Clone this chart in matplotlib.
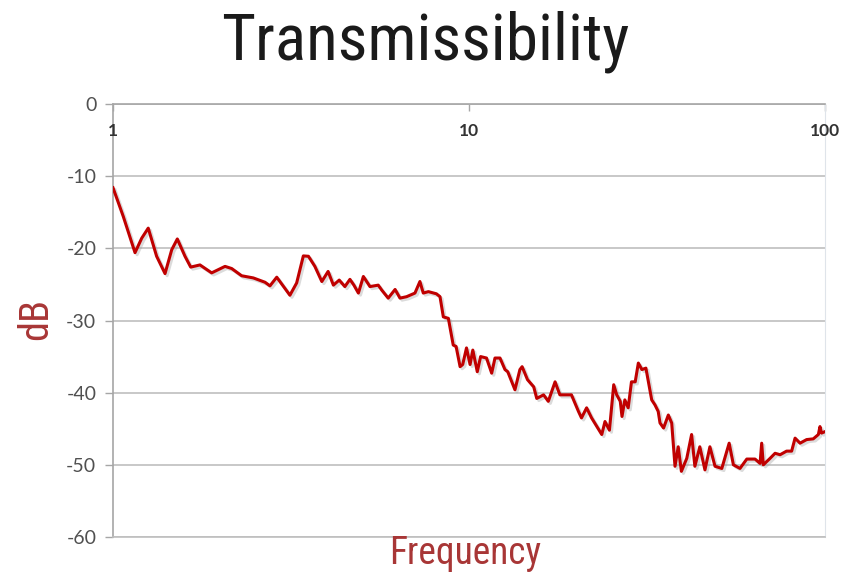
import matplotlib
matplotlib.use("Agg")
import matplotlib.pyplot as plt
import matplotlib.patheffects as pe
from matplotlib.ticker import NullLocator, FixedLocator, NullFormatter

# ---- data ----
freq = [1.00, 1.069, 1.153, 1.204, 1.256, 1.326, 1.40, 1.462, 1.516, 1.593, 1.653,
        1.755, 1.893, 2.064, 2.155, 2.298, 2.478, 2.673, 2.76, 2.884, 3.14, 3.28,
        3.425, 3.54, 3.69, 3.86, 4.02, 4.16, 4.32, 4.48, 4.63, 4.75, 4.89, 5.05,
        5.27, 5.56, 5.69, 5.93, 6.2, 6.4, 6.68, 7.05, 7.28, 7.44, 7.69, 8.10, 8.29,
        8.47, 8.75, 9.03, 9.20, 9.44, 9.60, 9.84, 10.07, 10.25, 10.55, 10.78, 11.2,
        11.58, 11.83, 12.22, 12.62, 12.85, 13.46, 13.9, 14.1, 14.6, 15.2, 15.5,
        16.2, 16.7, 17.45, 18.0, 19.4, 20.3, 20.7, 21.4, 22.1, 23.6, 24.1, 24.8,
        25.5, 26.0, 26.6, 26.9, 27.4, 28.0, 28.6, 29.3, 29.9, 30.6, 31.4, 32.6,
        33.3, 34.0, 34.4, 35.2, 36.3, 37.1, 37.9, 38.7, 39.5, 40.9, 42.2, 43.1,
        44.5, 46.0, 47.5, 49.1, 51.3, 53.8, 55.3, 57.7, 60.3, 63.6, 65.7, 66.4,
        67.1, 70.1, 72.4, 74.8, 78.0, 80.6, 82.4, 85.1, 88.8, 92.7, 95.8, 96.8,
        97.8, 100.0]
db = [-11.6, -15.6, -20.6, -18.6, -17.2, -21.1, -23.5, -20.2, -18.7, -21.1, -22.6,
      -22.3, -23.4, -22.5, -22.8, -23.8, -24.1, -24.7, -25.2, -24.0, -26.5, -24.8,
      -21.05, -21.1, -22.5, -24.6, -23.2, -25.1, -24.4, -25.3, -24.3, -25.1, -26.2, -23.9,
      -25.3, -25.1, -25.8, -26.9, -25.7, -26.9, -26.7, -26.2, -24.6, -26.2, -26.0, -26.3, -26.7,
      -29.5, -29.7, -33.4, -33.6, -36.4, -36.1, -33.8, -36.1, -34.1, -37.1, -35.0, -35.2,
      -37.3, -35.2, -35.2, -36.8, -37.1, -39.6, -36.8, -36.4, -38.2, -39.2, -40.8,
      -40.3, -41.2, -38.5, -40.3, -40.3, -42.6, -43.5, -42.1, -43.5, -45.8, -44.0, -45.2,
      -38.9, -40.3, -41.2, -43.3, -41.0, -42.1, -38.5, -38.5, -35.9, -36.8, -36.6, -41.0,
      -41.7, -42.6, -44.2, -44.9, -43.1, -44.2, -50.2, -47.5, -50.9, -49.1, -45.8, -50.2,
      -47.5, -50.7, -47.5, -50.2, -50.5, -47.0, -50.0, -50.5, -49.2, -49.2, -49.8, -47.0,
      -50.0, -49.1, -48.4, -48.6, -48.1, -48.1, -46.3, -47.0, -46.5, -46.4, -45.8, -44.7,
      -45.6, -45.4]
x_ticks = [1, 10, 100]
x_tick_labels = ["1", "10", "100"]
y_ticks = [0, -10, -20, -30, -40, -50, -60]
title = "Transmissibility"
x_label = "Frequency"
y_label = "dB"

narrow = ["Liberation Sans Narrow", "Roboto Condensed", "DejaVu Sans"]
tickfont = ["Lato", "DejaVu Sans"]

fig = plt.figure(figsize=(8.68, 5.83), dpi=100)
fig.patch.set_facecolor("white")
ax = fig.add_axes([113/868, 1-537/583, (825-113)/868, (537-104)/583])

ax.plot(freq, db, color="#c00000", lw=2.2, solid_joinstyle="round",
        path_effects=[pe.SimpleLineShadow(offset=(1.5, -1.5), shadow_color="#999999", alpha=0.35),
                      pe.Normal()], zorder=3)

ax.set_xscale("log")
ax.set_xlim(1, 100)
ax.set_ylim(-60, 0)
ax.xaxis.set_major_locator(FixedLocator(x_ticks))
ax.xaxis.set_minor_locator(NullLocator())
ax.xaxis.set_major_formatter(NullFormatter())
ax.xaxis.set_ticks_position("top")
ax.tick_params(axis="x", direction="in", length=5, color="#a6a6a6", width=1)
for xv, lab in zip(x_ticks, x_tick_labels):
    ax.text(xv, -3.7, lab, ha="center", va="center", fontsize=12.5,
            family=tickfont, color="#333333", fontweight="bold")

ax.set_yticks(y_ticks)
ax.set_yticklabels([str(v) for v in y_ticks])
ax.tick_params(axis="y", direction="out", length=6, color="#a6a6a6", width=1,
               labelsize=14, labelcolor="#505050", pad=6)
for lab in ax.get_yticklabels():
    lab.set_family(tickfont)

ax.grid(axis="y", color="#bfbfbf", lw=1.2)
for s in ["top", "left"]:
    ax.spines[s].set_color("#a6a6a6")
    ax.spines[s].set_linewidth(1.2)
ax.spines["right"].set_color("#dfe4ea")
ax.spines["bottom"].set_color("#bfbfbf")
ax.spines["bottom"].set_linewidth(1.2)

fig.text(425/868, 1-42/583, title, ha="center", va="center", fontsize=47,
         family=narrow, color="#1a1a1a")
fig.text(465/868, 1-553/583, x_label, ha="center", va="center", fontsize=27,
         family=narrow, color="#a83636")
fig.text(36/868, 1-319/583, y_label, ha="center", va="center", fontsize=29,
         family=narrow, color="#a83636", rotation=90)

fig.savefig("out.png", dpi=100, facecolor="white")
